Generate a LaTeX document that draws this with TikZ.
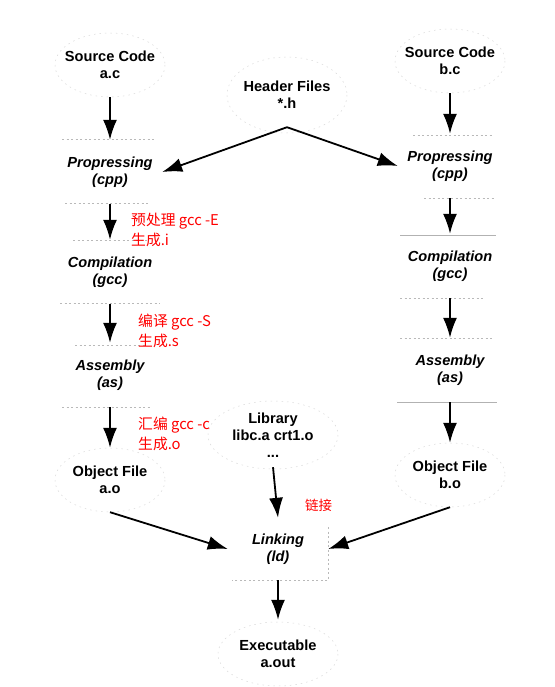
\documentclass[tikz,border=0pt]{standalone}
\usepackage{fontspec}
\setmainfont{Liberation Sans}
\newfontfamily\cjk{Noto Sans CJK SC}
\usetikzlibrary{arrows.meta}
\begin{document}
\begin{tikzpicture}[x=1pt,y=-1pt,
 box/.style={font=\bfseries\fontsize{14.6}{17}\selectfont, align=center, minimum width=104pt, minimum height=64pt, inner sep=0pt},
 boxi/.style={box, font=\bfseries\itshape\fontsize{14.6}{17}\selectfont},
 arr/.style={-{Latex[length=20pt,width=14pt]}, line width=1.8pt},
 note/.style={font=\cjk\fontsize{14.8}{20}\selectfont, text=red, align=left, anchor=west, inner sep=0pt},
 faint/.style={draw=gray!55, line width=0.6pt, dash pattern=on 2pt off 2.5pt},
 oval/.style={draw=gray!30, line width=0.5pt, dash pattern=on 1.5pt off 4pt}]
\useasboundingbox (0,0) rectangle (554,687);
\fill[white] (0,0) rectangle (554,687);

% faint outlines
\draw[oval] (110,65) ellipse [x radius=55, y radius=32];
\draw[oval] (450,61) ellipse [x radius=55, y radius=32];
\draw[oval] (287,95) ellipse [x radius=60, y radius=38];
\draw[oval] (273,435) ellipse [x radius=65, y radius=34];
\draw[oval] (110,480) ellipse [x radius=55, y radius=32];
\draw[oval] (450,475) ellipse [x radius=55, y radius=32];
\draw[oval] (278,654) ellipse [x radius=60, y radius=32];

\draw[faint] (62,139) -- (155,139);
\draw[faint] (65,203) -- (150,203);
\draw[faint] (73,240) -- (148,240);
\draw[faint] (60,303) -- (160,303);
\draw[faint] (75,345) -- (145,345);
\draw[faint] (62,407) -- (150,407);
\draw[faint] (413,135) -- (492,135);
\draw[faint] (424,198) -- (495,198);
\draw[draw=gray!60, line width=0.7pt] (400,235) -- (496,235);
\draw[faint] (400,298) -- (485,298);
\draw[faint] (400,338) -- (493,338);
\draw[draw=gray!60, line width=0.7pt] (397,402) -- (497,402);
\draw[faint] (328,527) -- (328,580) -- (232,580);

% nodes
\node[box]  (srcA) at (110,65)  {Source Code\\a.c};
\node[boxi] (cppA) at (110,172) {Propressing\\(cpp)};
\node[boxi] (ccA)  at (110,272) {Compilation\\(gcc)};
\node[boxi] (asA)  at (110,375) {Assembly\\(as)};
\node[box]  (objA) at (110,480) {Object File\\a.o};

\node[box]  (hdr)  at (287,95)  {Header Files\\*.h};

\node[box]  (srcB) at (450,61)  {Source Code\\b.c};
\node[boxi] (cppB) at (450,166) {Propressing\\(cpp)};
\node[boxi] (ccB)  at (450,266) {Compilation\\(gcc)};
\node[boxi] (asB)  at (450,370) {Assembly\\(as)};
\node[box]  (objB) at (450,475) {Object File\\b.o};

\node[box]  (lib)  at (273,435) {Library\\libc.a crt1.o\\...};
\node[boxi, minimum width=100pt, minimum height=62pt] (lnk) at (278,549) {Linking\\(ld)};
\node[box, minimum height=68pt] (exe) at (278,654) {Executable\\a.out};

% notes
\node[note] (n1) at (131,230) {预处理 gcc -E\\生成.i};
\node[note] (n2) at (138,331) {编译 gcc -S\\生成.s};
\node[note] (n3) at (138,434) {汇编 gcc -c\\生成.o};
\node[note, font=\cjk\fontsize{13.5}{15}\selectfont] (n4) at (305,505) {链接};

% arrows
\draw[arr] (srcA) -- (cppA);
\draw[arr] (cppA) -- (ccA);
\draw[arr] (ccA) -- (asA);
\draw[arr] (asA) -- (objA);
\draw[arr] (srcB) -- (cppB);
\draw[arr] (cppB) -- (ccB);
\draw[arr] (ccB) -- (asB);
\draw[arr] (asB) -- (objB);
\draw[arr] (hdr.south) -- (cppA.east);
\draw[arr] (hdr.south) -- (cppB.west);
\draw[arr] (objA.south) -- (lnk.west);
\draw[arr] (objB.south) -- (lnk.east);
\draw[arr] (lib.south) -- (lnk.north);
\draw[arr] (lnk.south) -- (exe.north);
\end{tikzpicture}
\end{document}
